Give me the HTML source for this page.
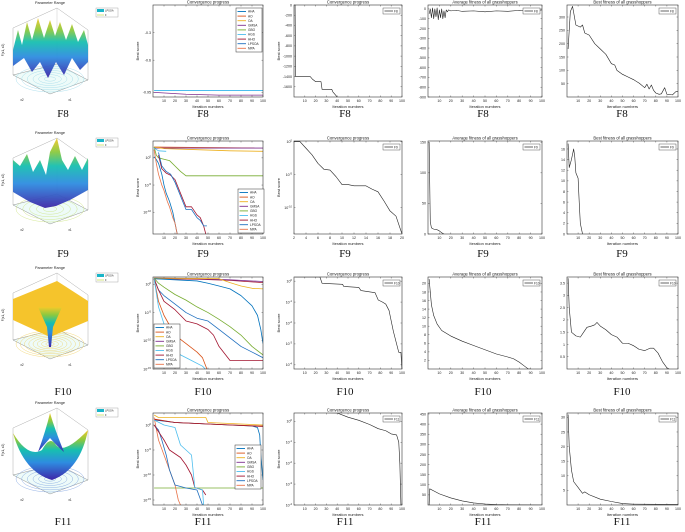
<!DOCTYPE html>
<html><head><meta charset="utf-8"><style>
html,body{margin:0;padding:0;background:#fff;}
svg{display:block;font-family:"Liberation Sans",sans-serif;}
.cap{font-family:"Liberation Serif",serif;font-size:11px;fill:#111;}
</style></head><body>
<svg id="fig" width="685" height="532" viewBox="0 0 685 532" xmlns="http://www.w3.org/2000/svg"></svg>
<script>
// ---------- data (log panels store log10 exponents) ----------
const iterTicks=[10,20,30,40,50,60,70,80,90,100];
// F8
const f8ConvAX=[1,100], f8ConvAY=[-0.93,-0.93];
const f8ConvBX=[1,30,60,100], f8ConvBY=[-0.95,-0.97,-0.98,-0.98];
const f8SingleX=[1,1.5,15,17,20,25,26,35,36,40];
const f8SingleY=[0,-1400,-1400,-1450,-1500,-1500,-1650,-1650,-1700,-1800];
const f8AvgX=[1,2,3,4,5,6,7,8,9,10,11,12,13,14,15,16,17,18,20,25,30,40,50,60,70,80,90,100];
const f8AvgY=[-50,0,-90,10,-100,0,-80,10,-110,-10,-90,0,-100,-20,-90,-10,-30,-10,-20,-15,-25,-20,-30,-20,-25,-15,-20,-10];
const f8BestX=[1,3,5,8,12,14,16,20,25,30,35,40,43,45,50,55,60,65,70,72,74,76,78,80,83,85,88,90,95,98,100];
const f8BestY=[180,320,340,270,262,270,240,232,200,180,160,125,120,100,85,75,65,52,35,48,30,45,25,15,10,12,35,10,8,20,20];
// F9
const f9ConvRed=[[1,100],[2,1.8]];
const f9ConvPurple=[[1,100],[1.8,1.8]];
const f9ConvYellow=[[1,10,40,70,100],[2,1.7,1.5,1.3,1.2]];
const f9ConvGreen=[[1,3,5,15,20,25,30,100],[2,0.5,0,-0.5,-1.5,-2.5,-3.3,-3.3]];
const f9ConvLBlue=[[1,5,12],[1.8,1.3,1.2]];
const f9ConvBlue=[[1,3,5,8,10,12,15,18,20,22],[0.2,-0.3,-1,-3,-5,-6.5,-8,-10,-12,-14]];
const f9ConvOrange=[[1,3,5,8,10,13,15,18,20,22],[1.5,-1,-3,-5,-6,-8,-9,-11,-12,-14]];
const f9ConvDRed=[[5,8,12,16,20,24,28,30,35,40,43,46,48],[0.5,-2,-2.8,-3.2,-4,-6,-8,-9,-9,-10.5,-11,-12.5,-14]];
const f9ConvSky=[[5,8,12,16,20,24,28,30,35,40,43,46,49],[1,-1.5,-2.5,-3,-4.5,-6.5,-8.5,-9.5,-9.5,-11,-11.5,-12.5,-12.5]];
const f9SingleX=[2,3,4,5,6,7,8,9,10,11,12,13,14,15,16,17,18,19,20];
const f9SingleY=[0,0,-1,-2,-3.3,-4.2,-4.3,-5.3,-6.5,-6.5,-6.7,-6.7,-6.7,-7.2,-7.6,-9,-10.5,-11.3,-14];
const f9AvgX=[1,2,3,5,8,10,12,14];
const f9AvgY=[150,20,10,8,7,5,2,0];
const f9BestX=[1,2,4,6,7,8,10,11,12,13,14];
const f9BestY=[17,12.5,14,16,14.5,11.5,10.5,6,2,1,0];
// F10
const f10ConvRed=[[1,40,70,100],[1,0.9,0.7,0.3]];
const f10ConvPurple=[[1,40,70,100],[1.1,1,0.8,0.5]];
const f10ConvYellow=[[1,60,70,80,90,100],[1.1,1,0.3,-0.3,-0.7,-0.8]];
const f10ConvBlue=[[1,20,40,50,60,70,80,90,95,98,100],[1,0.8,0.6,0.2,-0.3,-0.8,-2,-3.8,-5.5,-8,-10.5]];
const f10ConvGreen=[[1,5,10,20,30,40,50,60,70,80,90,100],[1.1,0.2,-0.5,-1.8,-2.8,-4,-5,-6.2,-7.5,-9,-11,-12.5]];
const f10ConvBlue2=[[1,5,10,20,30,40,50,60,70,80,90,100],[1,-1,-2,-3.5,-5,-6,-6.5,-8,-9.5,-11,-12,-13]];
const f10ConvDRed=[[1,5,10,20,30,40,50,55,60,70,80,100],[1,-1,-3,-4.5,-6.5,-7,-8,-9,-11,-13.5,-13.5,-13.5]];
const f10ConvOrange=[[1,5,10,20,30,40,45,50],[1,-3,-5.5,-9,-10.5,-12,-13,-15.5]];
const f10ConvSky=[[1,5,10,15,20,25,35,45,50],[1,-4,-7,-9.5,-12,-12.5,-13.5,-14.5,-15.5]];
const f10SingleX=[1,24,26,45,46,60,62,75,78,82,85,88,90,92,95,97,99,100];
const f10SingleY=[0.2,0.2,-0.1,-0.15,-0.25,-0.3,-0.45,-0.55,-0.9,-1,-1.1,-1.4,-1.9,-2.4,-3,-3.4,-3.4,-4.3];
const f10AvgX=[1,3,5,8,12,20,30,40,50,60,70,75,80,85,88,90];
const f10AvgY=[21,15,12.5,10.5,9,7.7,6.5,5.5,4.5,3.5,2.8,2.4,1.6,0.6,0,0];
const f10BestX=[1,2,4,8,12,15,18,22,25,27,30,35,40,45,50,55,60,65,70,75,78,82,86,90,92];
const f10BestY=[3.7,2.5,1.5,1.35,1.3,1.5,1.7,1.75,1.8,1.9,1.75,1.6,1.4,1.3,1.05,1.05,0.95,0.8,0.75,0.85,0.85,0.65,0.3,0.05,0];
// F11
const f11ConvYellow=[[1,5,48,50,100],[2,1.5,1.5,0.5,0]];
const f11ConvBlue=[[1,20,60,90,95,97,98,100],[1,0.5,0.1,-0.2,-0.5,-2,-6,-11]];
const f11ConvRed=[[1,20,60,100],[1.2,0.5,0.1,-0.2]];
const f11ConvPurple=[[1,20,60,100],[1.1,0.5,0.1,-0.3]];
const f11ConvGreen=[[1,100],[-12.6,-12.6]];
const f11ConvOrange=[[1,5,10,15,20,23,25],[1.5,-3,-6,-9,-12,-15,-16]];
const f11ConvAha=[[1,5,8,12,15,20,30,40,45],[0,-1,-3,-6,-9,-12,-12.6,-13,-16]];
const f11ConvDRed=[[1,10,15,25,30,35,38,45,48],[0,-3,-5,-6.5,-8,-10,-12.5,-13,-14]];
const f11ConvSky=[[1,10,20,25,30,35,38,45,46],[1,0,-0.5,-4,-5,-6,-12.5,-13,-16]];
const f11SingleX=[1,40,50,60,70,78,85,90,95,97,98,99,100];
const f11SingleY=[0.45,0.4,0.2,0.05,-0.15,-0.35,-0.45,-0.6,-0.65,-1,-2,-4,-4];
const f11AvgX=[1,1.5,5,10,20,30,40,50,60,70,100];
const f11AvgY=[0,80,70,55,35,20,10,5,2,1,0];
const f11BestX=[1,2,4,6,10,12,14,16,20,30,40,50,60,100];
const f11BestY=[31,20,12,8,6,5,4,4.5,3.5,2,1.2,0.5,0.3,0.2];

const C={aha:'#0072bd',ao:'#d95319',oa:'#edb120',gmsa:'#7e2f8e',gbo:'#77ac30',hgs:'#4dbeee',hho:'#a2142f',lpsoa:'#1f6fbf',mpa:'#e8744a'};
const algNames=['AHA','AO','OA','GMSA','GBO','HGS','HHO','LPSOA','MPA'];
const algCols=[C.aha,C.ao,C.oa,C.gmsa,C.gbo,C.hgs,C.hho,C.lpsoa,C.mpa];

// ---------- drawing helpers ----------
const NS='http://www.w3.org/2000/svg';
const fig=document.getElementById('fig');
function mk(tag,attrs,parent){const e=document.createElementNS(NS,tag);for(const k in attrs)e.setAttribute(k,attrs[k]);(parent||fig).appendChild(e);return e;}
function txt(x,y,s,size,anchor,parent,rot){const t=mk('text',{x:x,y:y,'font-size':size,'text-anchor':anchor||'middle',fill:'#222'},parent);if(rot)t.setAttribute('transform','rotate(-90 '+x+' '+y+')');t.textContent=s;return t;}

function panel(cfg){
  const g=mk('g',{});
  
  
  const {x0,y0,x1,y1}=cfg;
  const sx=v=>x0+(v-cfg.xd[0])/(cfg.xd[1]-cfg.xd[0])*(x1-x0);
  const sy=v=>y1-(v-cfg.yd[0])/(cfg.yd[1]-cfg.yd[0])*(y1-y0);
  const clip='c'+cfg.name;
  const cp=mk('clipPath',{id:clip},g);mk('rect',{x:x0,y:y0,width:x1-x0,height:y1-y0},cp);
  cfg.xticks.forEach(t=>{const X=sx(t);mk('line',{x1:X,y1:y1,x2:X,y2:y1-1.5,stroke:'#444','stroke-width':0.4},g);mk('line',{x1:X,y1:y0,x2:X,y2:y0+1.5,stroke:'#444','stroke-width':0.4},g);txt(X,y1+5,String(t),3.6,'middle',g);});
  cfg.yticks.forEach((t,i)=>{const Y=sy(t);mk('line',{x1:x0,y1:Y,x2:x0+1.5,y2:Y,stroke:'#444','stroke-width':0.4},g);mk('line',{x1:x1,y1:Y,x2:x1-1.5,y2:Y,stroke:'#444','stroke-width':0.4},g);
    const lab=cfg.log?'10':String(t);const tt=txt(x0-2,Y+1.3,lab,3.6,'end',g);
    if(cfg.log){const s=mk('tspan',{dy:-1.5,'font-size':2.6},tt);s.textContent=String(t);}});
  cfg.series.forEach(s=>{
    const pts=s.x.map((v,i)=>sx(v).toFixed(2)+','+sy(s.y[i]).toFixed(2)).join(' ');
    const p=mk('polyline',{points:pts,fill:'none',stroke:s.c,'stroke-width':s.w||0.8,'clip-path':'url(#'+clip+')','stroke-linejoin':'round'},g);
    
    
  });
  mk('rect',{x:x0,y:y0,width:x1-x0,height:y1-y0,fill:'none',stroke:'#333','stroke-width':0.6},g);
  txt((x0+x1)/2,y0-1.5,cfg.title,4.2,'middle',g);
  txt((x0+x1)/2,y1+11,'Iteration numbers',4,'middle',g);
  if(cfg.ylabel)txt(x0-14,(y0+y1)/2,cfg.ylabel,4,'middle',g,true);
  if(cfg.legend1){const lx=x1-19,ly=y0+3;const lg=mk('g',{},g);
    
    
    mk('rect',{x:lx,y:ly,width:17,height:6,fill:'#fff',stroke:'#333','stroke-width':0.4},lg);
    mk('line',{x1:lx+1.5,y1:ly+3,x2:lx+10,y2:ly+3,stroke:'#222','stroke-width':0.7},lg);
    txt(lx+11,ly+4.3,cfg.legend1,3.2,'start',lg);}
  if(cfg.legendAlg){const [lx,ly]=cfg.legendAlg;const lg=mk('g',{},g);
    
    
    mk('rect',{x:lx,y:ly,width:26,height:44,fill:'#fff',stroke:'#333','stroke-width':0.5},lg);
    algNames.forEach((n,i)=>{const yy=ly+3.5+i*4.6;mk('line',{x1:lx+1.5,y1:yy,x2:lx+10,y2:yy,stroke:algCols[i],'stroke-width':0.9},lg);txt(lx+12,yy+1.2,n,3.2,'start',lg);});}
}

const rows=[[5,97],[141,234],[277,369],[413,505]];
const cols=[[153,263],[294,402],[428,542],[567,678]];
const S=(x,y,c,n,w)=>({x:x,y:y,c:c,n:n,w:w});
const P2=(a,c,n)=>S(a[0],a[1],c,n);

// Row F8
panel({name:'f8-convergence-all',x0:cols[0][0],y0:rows[0][0],x1:cols[0][1],y1:rows[0][1],xd:[0,100],yd:[-1,0],xticks:iterTicks,yticks:[-0.3,-0.6,-0.95],log:false,title:'Convergence progress',ylabel:'Best score',
  series:[S(f8ConvAX,f8ConvAY,C.hgs,'hgs',1),S(f8ConvBX,f8ConvBY,C.gmsa,'gmsa',0.8)],legendAlg:[236,8]});
panel({name:'f8-convergence',x0:cols[1][0],y0:rows[0][0],x1:cols[1][1],y1:rows[0][1],xd:[0,100],yd:[-1800,0],xticks:iterTicks,yticks:[0,-200,-400,-600,-800,-1000,-1200,-1400,-1600],title:'Convergence progress',ylabel:'Best score',series:[S(f8SingleX,f8SingleY,'#222','f8',0.6)],legend1:'F8'});
panel({name:'f8-average-fitness',x0:cols[2][0],y0:rows[0][0],x1:cols[2][1],y1:rows[0][1],xd:[0,100],yd:[-900,40],xticks:iterTicks,yticks:[0,-100,-200,-300,-400,-500,-600,-700,-800,-900],title:'Average fitness of all grasshoppers',series:[S(f8AvgX,f8AvgY,'#222','f8',0.6)],legend1:'F8'});
panel({name:'f8-best-fitness',x0:cols[3][0],y0:rows[0][0],x1:cols[3][1],y1:rows[0][1],xd:[0,100],yd:[0,345],xticks:iterTicks,yticks:[50,100,150,200,250,300],title:'Best fitness of all grasshoppers',series:[S(f8BestX,f8BestY,'#222','f8',0.6)],legend1:'F8'});
// Row F9
panel({name:'f9-convergence-all',x0:cols[0][0],y0:rows[1][0],x1:cols[0][1],y1:rows[1][1],xd:[0,100],yd:[-14,3.1],log:true,xticks:iterTicks,yticks:[0,-5,-10],title:'Convergence progress',ylabel:'Best score',
  series:[P2(f9ConvRed,C.ao,'ao'),P2(f9ConvPurple,C.gmsa,'gmsa'),P2(f9ConvYellow,C.oa,'oa'),P2(f9ConvGreen,C.gbo,'gbo'),P2(f9ConvLBlue,C.hgs,'hgs'),P2(f9ConvBlue,C.aha,'aha'),P2(f9ConvOrange,C.mpa,'mpa'),P2(f9ConvDRed,C.hho,'hho'),P2(f9ConvSky,C.lpsoa,'lpsoa')],legendAlg:[238,189]});
panel({name:'f9-convergence',x0:cols[1][0],y0:rows[1][0],x1:cols[1][1],y1:rows[1][1],xd:[2,20],yd:[-14,0.1],log:true,xticks:[2,4,6,8,10,12,14,16,18,20],yticks:[0,-5,-10],title:'Convergence progress',ylabel:'Best score',series:[S(f9SingleX,f9SingleY,'#222','f9',0.6)],legend1:'F9'});
panel({name:'f9-average-fitness',x0:cols[2][0],y0:rows[1][0],x1:cols[2][1],y1:rows[1][1],xd:[0,100],yd:[0,152],xticks:iterTicks,yticks:[0,50,100,150],title:'Average fitness of all grasshoppers',series:[S(f9AvgX,f9AvgY,'#222','f9',0.6)],legend1:'F9'});
panel({name:'f9-best-fitness',x0:cols[3][0],y0:rows[1][0],x1:cols[3][1],y1:rows[1][1],xd:[0,100],yd:[0,17.5],xticks:iterTicks,yticks:[0,2,4,6,8,10,12,14,16],title:'Best fitness of all grasshoppers',series:[S(f9BestX,f9BestY,'#222','f9',0.6)],legend1:'F9'});
// Row F10
panel({name:'f10-convergence-all',x0:cols[0][0],y0:rows[2][0],x1:cols[0][1],y1:rows[2][1],xd:[0,100],yd:[-15,1.3],log:true,xticks:iterTicks,yticks:[0,-5,-10,-15],title:'Convergence progress',ylabel:'Best score',
  series:[P2(f10ConvRed,C.hho,'hho'),P2(f10ConvPurple,C.gmsa,'gmsa'),P2(f10ConvYellow,C.oa,'oa'),P2(f10ConvBlue,C.aha,'aha'),P2(f10ConvGreen,C.gbo,'gbo'),P2(f10ConvBlue2,C.lpsoa,'lpsoa'),P2(f10ConvDRed,C.hho,'hho2'),P2(f10ConvOrange,C.ao,'ao'),P2(f10ConvSky,C.hgs,'hgs')],legendAlg:[154,324]});
panel({name:'f10-convergence',x0:cols[1][0],y0:rows[2][0],x1:cols[1][1],y1:rows[2][1],xd:[0,100],yd:[-4.2,0.2],log:true,xticks:iterTicks,yticks:[0,-1,-2,-3,-4],title:'Convergence progress',ylabel:'Best score',series:[S(f10SingleX,f10SingleY,'#222','f10',0.6)],legend1:'F10'});
panel({name:'f10-average-fitness',x0:cols[2][0],y0:rows[2][0],x1:cols[2][1],y1:rows[2][1],xd:[0,100],yd:[0,21.5],xticks:iterTicks,yticks:[2,4,6,8,10,12,14,16,18,20],title:'Average fitness of all grasshoppers',series:[S(f10AvgX,f10AvgY,'#222','f10',0.6)],legend1:'F10'});
panel({name:'f10-best-fitness',x0:cols[3][0],y0:rows[2][0],x1:cols[3][1],y1:rows[2][1],xd:[0,100],yd:[0,3.75],xticks:iterTicks,yticks:[0.5,1,1.5,2,2.5,3,3.5],title:'Best fitness of all grasshoppers',series:[S(f10BestX,f10BestY,'#222','f10',0.6)],legend1:'F10'});
// Row F11
panel({name:'f11-convergence-all',x0:cols[0][0],y0:rows[3][0],x1:cols[0][1],y1:rows[3][1],xd:[0,100],yd:[-16,2.4],log:true,xticks:iterTicks,yticks:[0,-5,-10,-15],title:'Convergence progress',ylabel:'Best score',
  series:[P2(f11ConvYellow,C.oa,'oa'),P2(f11ConvBlue,C.aha,'aha'),P2(f11ConvRed,C.ao,'ao'),P2(f11ConvPurple,C.hho,'hho'),P2(f11ConvGreen,C.gbo,'gbo'),P2(f11ConvOrange,C.mpa,'mpa'),P2(f11ConvAha,C.lpsoa,'lpsoa'),P2(f11ConvDRed,C.hho,'hho2'),P2(f11ConvSky,C.hgs,'hgs')],legendAlg:[235,445]});
panel({name:'f11-convergence',x0:cols[1][0],y0:rows[3][0],x1:cols[1][1],y1:rows[3][1],xd:[0,100],yd:[-4,0.4],log:true,xticks:iterTicks,yticks:[0,-1,-2,-3,-4],title:'Convergence progress',ylabel:'Best score',series:[S(f11SingleX,f11SingleY,'#222','f11',0.6)],legend1:'F11'});
panel({name:'f11-average-fitness',x0:cols[2][0],y0:rows[3][0],x1:cols[2][1],y1:rows[3][1],xd:[0,100],yd:[0,455],xticks:iterTicks,yticks:[50,100,150,200,250,300,350,400,450],title:'Average fitness of all grasshoppers',series:[S(f11AvgX,f11AvgY,'#222','f11',0.6)],legend1:'F11'});
panel({name:'f11-best-fitness',x0:cols[3][0],y0:rows[3][0],x1:cols[3][1],y1:rows[3][1],xd:[0,100],yd:[0,31.5],xticks:iterTicks,yticks:[5,10,15,20,25,30],title:'Best fitness of all grasshoppers',series:[S(f11BestX,f11BestY,'#222','f11',0.6)],legend1:'F11'});

// ---------- 3D surface sketches ----------
const defs=mk('defs',{});
const gr=mk('linearGradient',{id:'parula',x1:0,y1:1,x2:0,y2:0},defs);
[['0','#3e26a8'],['0.35','#2e8ce0'],['0.6','#17bfb0'],['0.8','#8bc93f'],['1','#f5c92a']].forEach(s=>mk('stop',{offset:s[0],'stop-color':s[1]},gr));
function box3d(oy,name,fn){
  const g=mk('g',{});
  
  
  const L=13,R=88,B=57,F=50,top=oy+8,fl=oy+75;
  mk('polyline',{points:`${L},${fl} ${L},${oy+28} ${B},${top} ${R},${oy+30} ${R},${oy+80}`,fill:'none',stroke:'#999','stroke-width':0.4},g);
  mk('line',{x1:B,y1:top,x2:B,y2:oy+64,stroke:'#bbb','stroke-width':0.4},g);
  mk('polygon',{points:`${L},${fl} ${B},${oy+64} ${R},${oy+80} ${F},${oy+94}`,fill:'#eefbf9',stroke:'#777','stroke-width':0.4},g);
  fn(g,oy);
  txt(50,oy+4,'Parameter Range',3.8,'middle',g);
  mk('rect',{x:96,y:oy+8,width:22,height:9,fill:'#fff',stroke:'#999','stroke-width':0.4},g);
  mk('rect',{x:97,y:oy+9,width:7,height:3,fill:'#19b5c8'},g);
  mk('line',{x1:97,y1:oy+15,x2:104,y2:oy+15,stroke:'#c8e060','stroke-width':0.8},g);
  txt(105,oy+11.5,'LPSOA',2.6,'start',g);txt(105,oy+16,'F',2.6,'start',g);
  txt(22,oy+101,'x2',3.2,'middle',g);txt(70,oy+101,'x1',3.2,'middle',g);
  txt(4,oy+50,'F(x1, x2)',3.2,'middle',g,true);
}
function contours(g,oy,n,col){for(let i=1;i<=n;i++){mk('ellipse',{cx:50,cy:oy+79,rx:i*34/n,ry:i*13/n,fill:'none',stroke:col,'stroke-width':0.4},g);}}
box3d(0,'f8-surface',(g,oy)=>{contours(g,oy,6,'#9ad8e8');
  mk('polygon',{points:`13,${oy+50} 18,${oy+30} 22,${oy+45} 27,${oy+22} 32,${oy+40} 38,${oy+18} 44,${oy+38} 50,${oy+20} 55,${oy+36} 60,${oy+22} 66,${oy+40} 72,${oy+24} 78,${oy+42} 84,${oy+30} 88,${oy+45} 88,${oy+62} 80,${oy+70} 72,${oy+58} 64,${oy+75} 56,${oy+62} 48,${oy+78} 40,${oy+62} 32,${oy+72} 24,${oy+58} 13,${oy+66}`,fill:'url(#parula)',opacity:0.95},g);});
box3d(130,'f9-surface',(g,oy)=>{contours(g,oy,5,'#c9e27a');
  mk('polygon',{points:`13,${oy+30} 20,${oy+36} 27,${oy+24} 33,${oy+42} 40,${oy+30} 46,${oy+45} 50,${oy+22} 57,${oy+8} 62,${oy+30} 68,${oy+40} 75,${oy+26} 82,${oy+40} 88,${oy+28} 88,${oy+60} 70,${oy+70} 56,${oy+76} 45,${oy+78} 30,${oy+72} 13,${oy+62}`,fill:'url(#parula)',opacity:0.95},g);});
box3d(265,'f10-surface',(g,oy)=>{contours(g,oy,8,'#f0d060');
  mk('polygon',{points:`13,${oy+34} 57,${oy+16} 88,${oy+36} 88,${oy+56} 50,${oy+72} 13,${oy+55}`,fill:'#f5c42c'},g);
  mk('polygon',{points:`38,${oy+42} 62,${oy+42} 53,${oy+62} 51,${oy+82} 49,${oy+82} 47,${oy+62}`,fill:'url(#parula)'},g);});
box3d(400,'f11-surface',(g,oy)=>{contours(g,oy,6,'#7aa0e0');
  mk('path',{d:`M13,${oy+33} Q28,${oy+58} 42,${oy+50} Q50,${oy+35} 56,${oy+45} Q64,${oy+55} 88,${oy+30} Q80,${oy+70} 52,${oy+80} Q24,${oy+72} 13,${oy+33} Z`,fill:'url(#parula)'},g);
  mk('path',{d:`M50,${oy+13} Q55,${oy+30} 64,${oy+52} Q56,${oy+45} 50,${oy+38} Q44,${oy+45} 38,${oy+52} Q46,${oy+30} 50,${oy+13} Z`,fill:'url(#parula)'},g);});

// ---------- captions ----------
const capY=[117,257,395,525];const capX=[63,203,345,483,622];const fn=['F8','F9','F10','F11'];
capY.forEach((y,r)=>capX.forEach((x,c)=>{const t=txt(x,y,fn[r],11,'middle');t.setAttribute('class','cap');
  
  }));
</script>
</body></html>
